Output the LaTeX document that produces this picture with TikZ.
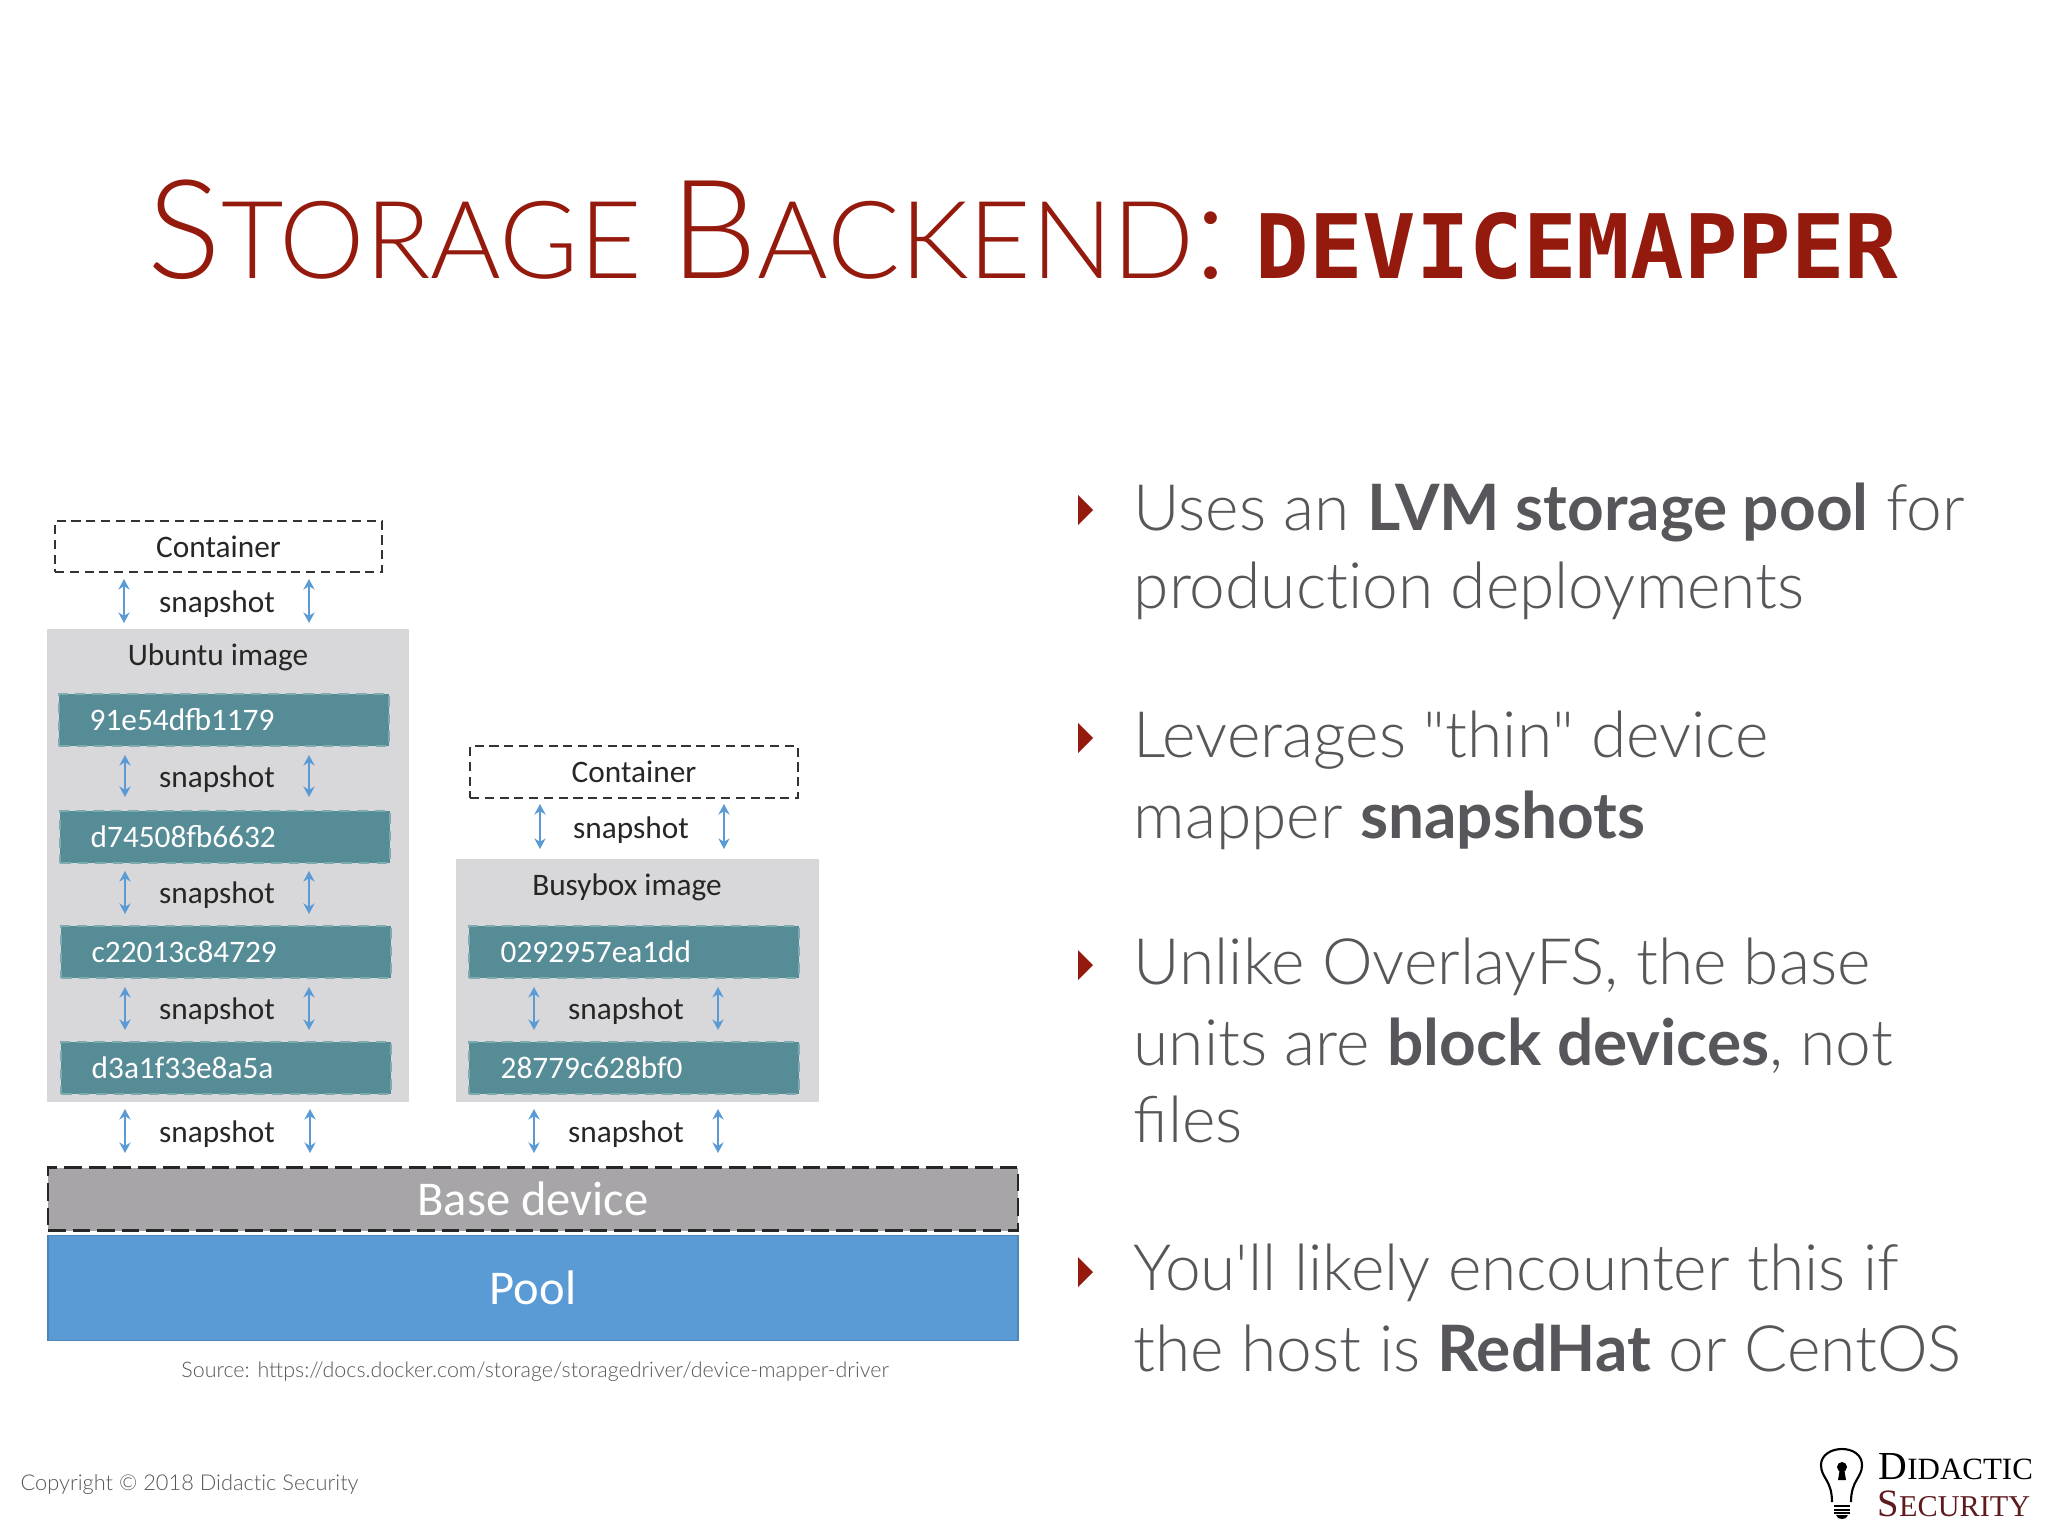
\documentclass[tikz,border=0pt]{standalone}
\usepackage{fontspec}
\usepackage{tikz}
\usetikzlibrary{arrows.meta}
\setmainfont[UprightFont=* Light,BoldFont=* Bold]{Lato}
\newfontfamily\bodyfont[UprightFont=* Light,BoldFont=* Bold]{Lato}
\newfontfamily\labelfont{Carlito}
\newfontfamily\logofont{Liberation Serif}
\newfontfamily\codefont{DejaVu Sans Mono}
\definecolor{titlered}{HTML}{951A0E}
\definecolor{bodygray}{HTML}{58565A}
\definecolor{imagegray}{HTML}{D8D8DA}
\definecolor{layerteal}{HTML}{568C96}
\definecolor{layeredge}{HTML}{7FAAB2}
\definecolor{basegray}{HTML}{A7A5A8}
\definecolor{poolblue}{HTML}{5B9BD5}
\definecolor{logored}{HTML}{5E1A1E}
\newcommand{\fsz}[1]{\fontsize{#1}{#1}\selectfont}
\tikzset{
  sized/.style 2 args={minimum width=#1*0.01cm,minimum height=#2*0.01cm,inner sep=0pt,outer sep=0pt},
  containerbox/.style={draw=black!80,line width=0.7pt,dash pattern=on 2.6pt off 1.6pt},
  layerbox/.style={fill=layerteal,draw=layeredge,dash pattern=on 3pt off 2pt,line width=0.5pt},
  imagebox/.style={fill=imagegray},
  difftxt/.style={font=\labelfont\fsz{8.9},text=black!85,inner sep=0pt},
  layertxt/.style={font=\labelfont\fsz{8.9},text=white,anchor=west,inner sep=0pt},
  snaparrow/.style={{Stealth[length=3pt,width=3.2pt]}-{Stealth[length=3pt,width=3.2pt]},poolblue,line width=0.7pt},
  bodytxt/.style={font=\bodyfont\fsz{18.2},text=bodygray,anchor=base west,inner sep=0pt},
  bulletmark/.style={fill=titlered},
}
\begin{document}
\begin{tikzpicture}[x=0.01cm,y=-0.01cm]
    \useasboundingbox (0,0) rectangle (2048,1536);

    % title
    \node[anchor=base west,inner sep=0pt,text=titlered] (title) at (147,278)
      {\fsz{39.2}S\fsz{30.7}TORAGE \fsz{39.2}B\fsz{30.7}ACKEND\fsz{39.2}:};
    \node[anchor=base east,inner sep=0pt,text=titlered,font=\codefont\bfseries\fsz{25.3}] (titlecode) at (1899,278) {DEVICEMAPPER};

    % image stacks
    \node[sized={362}{473},imagebox] (ubuntu) at (228,865.5) {};
    \node[sized={363}{243},imagebox] (busybox) at (637.5,980.5) {};
    \node[sized={327}{51},containerbox,difftxt] (contA) at (218.5,546.5) {Container};
    \node[sized={328}{52},containerbox,difftxt] (contB) at (634,772) {Container};
    \node[difftxt] (ubuntutxt) at (218,657.5) {Ubuntu image};
    \node[difftxt] (busyboxtxt) at (627,887.5) {Busybox image};

    \foreach \nm/\x/\y/\lx/\lbl in {
        uA/224/720/89/91e54dfb1179, uB/225/837/90/d74508fb6632,
        uC/226/952/91/c22013c84729, uD/226/1068/91/d3a1f33e8a5a,
        bA/634/952/500/0292957ea1dd, bB/634/1068/500/28779c628bf0}
    {
      \node[sized={330}{52},layerbox] (\nm) at (\x,\y) {};
      \node[layertxt] (\nm txt) at (\lx,\y) {\lbl};
    }

    % snapshot links
    \foreach \nm/\cx/\cy/\xa/\xb/\ya/\yb in {
        sA/217/604.5/124/309/579/623, sB/217/779.5/125/309/755/797,
        sC/217/895.5/125/309/871/914, sD/217/1011.5/125/309/987/1030,
        sE/217/1134.5/125/310/1109/1153, sF/631/830.5/540/724/804/849,
        sG/626/1011.5/534/718/987/1030, sH/626/1134.5/534/718/1109/1153}
    {
      \node[difftxt] (\nm) at (\cx,\cy) {snapshot};
      \coordinate (\nm lt) at (\xa,\ya);
      \coordinate (\nm lb) at (\xa,\yb);
      \coordinate (\nm rt) at (\xb,\ya);
      \coordinate (\nm rb) at (\xb,\yb);
      \draw[snaparrow] (\nm lt) -- (\nm lb);
      \draw[snaparrow] (\nm rt) -- (\nm rb);
    }

    % base and pool
    \node[sized={970}{63},fill=basegray,draw=black!85,dash pattern=on 5pt off 2pt,line width=0.8pt,
      text=white,font=\labelfont\fsz{13.8}] (base) at (533,1199) {Base device};
    \node[sized={970}{105},fill=poolblue,draw=poolblue!85!black,line width=0.5pt,
      text=white,font=\labelfont\fsz{13.8}] (pool) at (533,1288) {Pool};
    \node[inner sep=0pt,text=bodygray,font=\fsz{6.1}] (source) at (535,1372)
      {Source: https://docs.docker.com/storage/storagedriver/device-mapper-driver};

    % bullets
    \foreach \y in {510,738,965,1272}
      \fill[bulletmark] (1078,\y-15) -- (1093,\y) -- (1078,\y+15) -- cycle;

    \node[bodytxt] (lineA) at (1133,530) {Uses an \textbf{LVM storage pool} for};
    \node[bodytxt] (lineB) at (1133,608) {produc\kern0pt t\kern0pt ion deployments};
    \node[bodytxt] (lineC) at (1133,757) {Leverages "thin" device};
    \node[bodytxt] (lineD) at (1133,838) {mapper \textbf{snapshots}};
    \node[bodytxt] (lineE) at (1133,984) {Unlike OverlayFS, the base};
    \node[bodytxt] (lineF) at (1133,1065) {units are \textbf{block devices}, not};
    \node[bodytxt] (lineG) at (1133,1142) {files};
    \node[bodytxt] (lineH) at (1133,1290) {You'll likely encounter this if};
    \node[bodytxt] (lineI) at (1133,1371) {the host is \textbf{RedHat} or CentOS};

    % footer
    \node[anchor=base west,inner sep=0pt,text=bodygray,font=\fsz{6.2}] (copyright) at (20,1490) {Copyright © 2018 Didac\kern0pt t\kern0pt ic Security};

    % logo
    \draw[black,line width=0.6pt,line join=round]
      (1832,1502) .. controls (1832,1480) and (1821,1478) .. (1821,1465)
      .. controls (1821,1455) and (1831,1449) .. (1842,1449)
      .. controls (1853,1449) and (1862,1455) .. (1862,1465)
      .. controls (1862,1478) and (1851,1480) .. (1851,1502);
    \fill[black] (1842,1467) circle (5);
    \fill[black] (1840,1468) -- (1844,1468) -- (1846,1480) -- (1838,1480) -- cycle;
    \foreach \y in {1506,1510,1513}
      \draw[black,line width=0.5pt] (1834,\y) -- (1850,\y);
    \fill[black] (1836,1515) -- (1848,1515) .. controls (1847,1518) and (1845,1519) .. (1842,1519) .. controls (1839,1519) and (1837,1518) .. (1836,1515) -- cycle;
    \node[anchor=base west,inner sep=0pt,text=black,font=\logofont] (logoA) at (1878,1479) {\fsz{11.3}D\fsz{8.8}IDACTIC};
    \node[anchor=base west,inner sep=0pt,text=logored,font=\logofont] (logoB) at (1877,1516) {\fsz{11}S\fsz{8.6}ECURITY};
\end{tikzpicture}
\end{document}
